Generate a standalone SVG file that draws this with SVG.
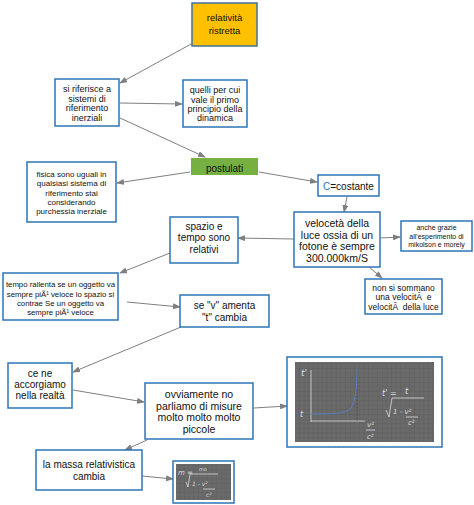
<svg xmlns="http://www.w3.org/2000/svg" width="474" height="505" viewBox="0 0 474 505">
<style>
.box{fill:#fff;stroke:#2E75B6;stroke-width:1.5}
.t{font-family:"Liberation Sans",Arial,sans-serif;fill:#111;text-anchor:middle}
.c line{stroke:#7f7f7f;stroke-width:1;marker-end:url(#ah)}
.hw{font-family:"DejaVu Sans",sans-serif;font-style:italic;fill:#dcdcdc}
.hl{stroke:#dcdcdc;stroke-width:0.8;fill:none}
</style>
<defs>
<marker id="ah" markerWidth="8" markerHeight="6" refX="7" refY="3" orient="auto" markerUnits="userSpaceOnUse">
<path d="M0,0 L8,3 L0,6 Z" fill="#7f7f7f"/>
</marker>
<pattern id="grid" width="4.6" height="4.6" patternUnits="userSpaceOnUse">
<rect width="4.6" height="4.6" fill="#6a6a6a"/>
<path d="M0,0 H4.6 M0,0 V4.6" stroke="#5a5a5a" stroke-width="0.6"/>
</pattern>
</defs>
<rect width="474" height="505" fill="#fff"/>

<g class="c" id="connectors">
<line x1="193" y1="43" x2="120" y2="83"/>
<line x1="120" y1="103" x2="182" y2="104"/>
<line x1="120" y1="118" x2="205" y2="157"/>
<line x1="190" y1="172" x2="117" y2="183"/>
<line x1="259" y1="172" x2="317" y2="182"/>
<line x1="347" y1="197" x2="344" y2="212"/>
<line x1="294" y1="239" x2="238" y2="238"/>
<line x1="381" y1="238" x2="400" y2="237"/>
<line x1="369" y1="267" x2="382" y2="278"/>
<line x1="170" y1="253" x2="120" y2="273"/>
<line x1="127" y1="302" x2="180" y2="307"/>
<line x1="181" y1="327" x2="73" y2="372"/>
<line x1="73" y1="390" x2="144" y2="402"/>
<line x1="254" y1="408" x2="287" y2="406"/>
<line x1="147" y1="440" x2="125" y2="450"/>
<line x1="142" y1="476" x2="173" y2="479"/>
</g>

<g id="n1">
<rect x="192" y="3" width="65" height="43" fill="#FFC000" stroke="#41719C" stroke-width="1.5"/>
<text class="t" font-size="9.5"><tspan x="224.5" y="21">relatività</tspan><tspan x="224.5" y="34">ristretta</tspan></text>
</g>
<g id="n2">
<rect class="box" x="55" y="79" width="64" height="47"/>
<text class="t" font-size="9"><tspan x="87" y="92">si riferisce a</tspan><tspan x="87" y="102">sistemi di</tspan><tspan x="87" y="111">riferimento</tspan><tspan x="87" y="121">inerziali</tspan></text>
</g>
<g id="n3">
<rect class="box" x="183" y="80" width="64" height="47"/>
<text class="t" font-size="9"><tspan x="215" y="93">quelli per cui</tspan><tspan x="215" y="103">vale il primo</tspan><tspan x="215" y="112">principio della</tspan><tspan x="215" y="121">dinamica</tspan></text>
</g>
<g id="n4">
<rect x="191" y="158" width="67" height="17" fill="#76B041"/>
<text class="t" font-size="10" x="224.5" y="171.5">postulati</text>
</g>
<g id="n5">
<rect class="box" x="27" y="162" width="89" height="60"/>
<text class="t" font-size="8"><tspan x="71.5" y="177">fisica sono uguali in</tspan><tspan x="71.5" y="186">qualsiasi sistema di</tspan><tspan x="71.5" y="196">riferimento stai</tspan><tspan x="71.5" y="205">considerando</tspan><tspan x="71.5" y="214">purchessia inerziale</tspan></text>
</g>
<g id="n6">
<rect class="box" x="318" y="175" width="61" height="21"/>
<text class="t" font-size="10" x="348.5" y="189.5"><tspan fill="#2E75B6">C</tspan>=costante</text>
</g>
<g id="n7">
<rect class="box" x="294" y="212" width="86" height="55"/>
<text class="t" font-size="10.5"><tspan x="337" y="227">velocetà della</tspan><tspan x="337" y="238.5">luce ossia di un</tspan><tspan x="337" y="250">fotone è sempre</tspan><tspan x="337" y="261.5">300.000km/S</tspan></text>
</g>
<g id="n8">
<rect class="box" x="401" y="221" width="71" height="30"/>
<text class="t" font-size="7"><tspan x="436.5" y="229.5">anche grazie</tspan><tspan x="436.5" y="238.5">all'esperimento di</tspan><tspan x="436.5" y="247">mikolson e morely</tspan></text>
</g>
<g id="n9">
<rect class="box" x="365" y="279" width="77" height="35"/>
<text class="t" font-size="8.5"><tspan x="403.5" y="291">non si sommano</tspan><tspan x="403.5" y="300">una velocitÃ&#160; e</tspan><tspan x="403.5" y="310">velocitÃ&#160; della luce</tspan></text>
</g>
<g id="n10">
<rect class="box" x="170" y="217" width="68" height="46"/>
<text class="t" font-size="10"><tspan x="204" y="229.5">spazio e</tspan><tspan x="204" y="240.5">tempo sono</tspan><tspan x="204" y="252.5">relativi</tspan></text>
</g>
<g id="n11">
<rect class="box" x="3" y="273" width="115" height="47"/>
<text class="t" font-size="7.8"><tspan x="60.5" y="287">tempo rallenta se un oggetto va</tspan><tspan x="60.5" y="297">sempre piÃ¹ veloce lo spazio si</tspan><tspan x="60.5" y="306">contrae Se un oggetto va</tspan><tspan x="60.5" y="315">sempre piÃ¹ veloce</tspan></text>
</g>
<g id="n12">
<rect class="box" x="180" y="295" width="89" height="32"/>
<text class="t" font-size="10"><tspan x="224.5" y="308.5">se "v" amenta</tspan><tspan x="224.5" y="320.5">"t" cambia</tspan></text>
</g>
<g id="n13">
<rect class="box" x="8" y="363" width="64" height="45"/>
<text class="t" font-size="10"><tspan x="40" y="376.5">ce ne</tspan><tspan x="40" y="387.5">accorgiamo</tspan><tspan x="40" y="398.5">nella realtà</tspan></text>
</g>
<g id="n14">
<rect class="box" x="145" y="383" width="108" height="56"/>
<text class="t" font-size="10.5"><tspan x="199" y="397.5">ovviamente no</tspan><tspan x="199" y="409.5">parliamo di misure</tspan><tspan x="199" y="420.5">molto molto molto</tspan><tspan x="199" y="432.5">piccole</tspan></text>
</g>
<g id="n15">
<rect class="box" x="287" y="357" width="155" height="90"/>
<rect x="295" y="362" width="139" height="80" fill="url(#grid)"/>
<path class="hl" d="M311,370 V422 M311,421 H365"/>
<path d="M357,368 V421" stroke="#4a4a4a" stroke-width="0.8" stroke-dasharray="2,1.5"/>
<path d="M311,414 C330,414 346,414 351,408 C356,400 357,385 357,368" fill="none" stroke="#5b7fc7" stroke-width="1"/>
<text class="hw" font-size="9" x="301" y="376">t'</text>
<text class="hw" font-size="8" x="300" y="417">t</text>
<text class="hw" font-size="7" x="367" y="427">v²</text>
<path class="hl" d="M366,430 H375"/>
<text class="hw" font-size="7" x="367" y="439">c²</text>
<text class="hw" font-size="8" x="382" y="396">t' =</text>
<text class="hw" font-size="8" x="405" y="394">t</text>
<path class="hl" d="M392,398 H424 M386,410 L389,417 L392,398"/>
<text class="hw" font-size="7" x="393" y="414">1 - v²</text>
<path class="hl" d="M406,417 H418"/>
<text class="hw" font-size="7" x="408" y="425">c²</text>
</g>
<g id="n16">
<rect class="box" x="36" y="450" width="106" height="40"/>
<text class="t" font-size="10"><tspan x="89" y="467.5">la massa  relativistica</tspan><tspan x="89" y="479.5">cambia</tspan></text>
</g>
<g id="n17">
<rect class="box" x="173" y="461" width="61" height="42"/>
<rect x="176" y="464" width="55" height="36" fill="url(#grid)"/>
<text class="hw" font-size="7" x="178" y="475">m =</text>
<text class="hw" font-size="5" x="199" y="471">mo</text>
<path class="hl" d="M190,474 H218 M186,482 L188,487 L190,474"/>
<text class="hw" font-size="6" x="192" y="486">1 - v²</text>
<path class="hl" d="M203,489 H215"/>
<text class="hw" font-size="6" x="206" y="497">c²</text>
</g>
</svg>
